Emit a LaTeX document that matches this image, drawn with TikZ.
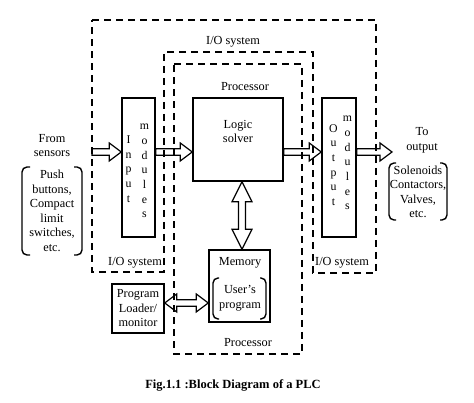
\documentclass[tikz,border=0pt]{standalone}
\usepackage{fontspec}
\setmainfont{Liberation Serif}
\usetikzlibrary{calc}
\begin{document}
\begin{tikzpicture}[x=1pt,y=1pt,
  box/.style={draw, line width=1.5pt, inner sep=0pt},
  dsh/.style={line width=1.8pt, dash pattern=on 7pt off 5pt},
  txt/.style={font=\fontsize{12.3}{14.5}\selectfont, align=center, inner sep=0pt},
  vtxt/.style={font=\fontsize{11.8}{14.7}\selectfont, align=center, inner sep=0pt},
  brk/.style={line width=1.4pt, rounded corners=5pt},
  harr/.style={line width=1.2pt, to path={let \p1=(\tikztostart), \p2=(\tikztotarget) in
    ({\x1},{\y1+3.2}) -- ({\x2-12},{\y1+3.2}) -- ({\x2-12},{\y1+9}) -- ({\x2},{\y1})
    -- ({\x2-12},{\y1-9}) -- ({\x2-12},{\y1-3.2}) -- ({\x1},{\y1-3.2}) -- cycle}},
  harrb/.style={line width=1.2pt, to path={let \p1=(\tikztostart), \p2=(\tikztotarget) in
    ({\x1},{\y1}) -- ({\x1+12},{\y1+9}) -- ({\x1+12},{\y1+3.2}) -- ({\x2-12},{\y1+3.2})
    -- ({\x2-12},{\y1+9}) -- ({\x2},{\y1}) -- ({\x2-12},{\y1-9}) -- ({\x2-12},{\y1-3.2})
    -- ({\x1+12},{\y1-3.2}) -- ({\x1+12},{\y1-9}) -- cycle}},
  varrb/.style={line width=1.2pt, to path={let \p1=(\tikztostart), \p2=(\tikztotarget) in
    ({\x1},{\y1}) -- ({\x1+10},{\y1-20}) -- ({\x1+3.5},{\y1-20}) -- ({\x1+3.5},{\y2+20})
    -- ({\x1+10},{\y2+20}) -- ({\x1},{\y2}) -- ({\x1-10},{\y2+20}) -- ({\x1-3.5},{\y2+20})
    -- ({\x1-3.5},{\y1-20}) -- ({\x1-10},{\y1-20}) -- cycle}}
]
\useasboundingbox (0,0) rectangle (474,403);

% dashed outlines
\draw[dsh] (92,383) -- (376,383) -- (376,130) -- (313,130) -- (313,351) -- (164,351) -- (164,131) -- (92,131) -- cycle;
\draw[dsh] (174,339) -- (302,339) -- (302,49) -- (174,49) -- cycle;

% boxes
\node[box, minimum width=33, minimum height=139] (in) at (138.5,235.5) {};
\node[box, minimum width=34, minimum height=139] (out) at (339,235.5) {};
\node[box, minimum width=90, minimum height=83] (lg) at (238,263.5) {};
\node[box, minimum width=61, minimum height=72] (mem) at (239.5,117) {};
\node[box, minimum width=52, minimum height=49] (ld) at (138,94.5) {};

% box texts
\node[vtxt] (tin1) at (128.5,234) {I\\n\\p\\u\\t};
\node[vtxt] (tin2) at (144.5,232) {m\\o\\d\\u\\l\\e\\s};
\node[vtxt] (tout1) at (333.5,238) {O\\u\\t\\p\\u\\t};
\node[vtxt] (tout2) at (347.5,240) {m\\o\\d\\u\\l\\e\\s};
\node[txt] (tlg) at (238,271.5) {Logic\\solver};
\node[txt] (tmem) at (240,140) {Memory};
\node[txt] (tup) at (240,105) {User’s\\program};
\node[txt] (tld) at (138,94.5) {Program\\Loader/\\monitor};

% labels
\node[txt] (lio1) at (233,361) {I/O system};
\node[txt] (lio2) at (135,140) {I/O system};
\node[txt] (lio3) at (342,140) {I/O system};
\node[txt] (lpr1) at (245,316) {Processor};
\node[txt] (lpr2) at (248,60) {Processor};
\node[txt] (lfrom) at (52,257.5) {From\\sensors};
\node[txt] (lsens) at (52,192) {Push\\buttons,\\Compact\\limit\\switches,\\etc.};
\node[txt] (lto) at (422,262.5) {To\\output};
\node[txt] (lact) at (418,211) {Solenoids\\Contactors,\\Valves,\\etc.};
\node[font=\fontsize{12.5}{15}\selectfont\bfseries, inner sep=0pt] (cap) at (233,18) {Fig.1.1 :Block Diagram of a PLC};

% brackets
\draw[brk] (30,236) -- (22,236) -- (22,148) -- (30,148);
\draw[brk] (74,236) -- (82,236) -- (82,148) -- (74,148);
\draw[brk] (396,240) -- (389,240) -- (389,183) -- (396,183);
\draw[brk] (440,240) -- (447,240) -- (447,183) -- (440,183);
\draw[brk] (219,125) -- (213,125) -- (213,84) -- (219,84);
\draw[brk] (260,125) -- (266,125) -- (266,84) -- (260,84);

% arrows
\coordinate (ay) at (0,251);
\coordinate (s0) at (92,251);
\coordinate (o1) at (392,251);
\coordinate (vx) at (242,0);
\coordinate (ly) at (0,100);
\draw[harr] (s0) to (in.west |- ay);
\draw[harr] (in.east |- ay) to (lg.west |- ay);
\draw[harr] (lg.east |- ay) to (out.west |- ay);
\draw[harr] (out.east |- ay) to (o1);
\draw[varrb] (lg.south -| vx) to (mem.north -| vx);
\draw[harrb] (ld.east |- ly) to (mem.west |- ly);
\end{tikzpicture}
\end{document}
